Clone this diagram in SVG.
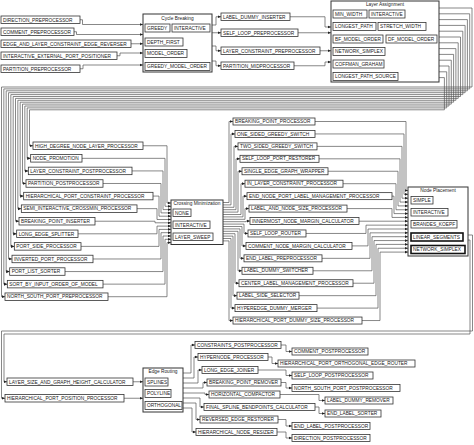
<svg xmlns="http://www.w3.org/2000/svg" width="474" height="445" viewBox="0 0 474 445">
<defs>
<marker id="a" markerUnits="userSpaceOnUse" markerWidth="4" markerHeight="4" refX="3.5" refY="2" orient="auto"><path d="M0,0.4 L3.5,2 L0,3.6z" fill="#222"/></marker>
</defs>
<style>
rect{fill:#fff;stroke:#333;stroke-width:0.8}
rect.p{stroke:#333;stroke-width:1}
rect.k{stroke:#111;stroke-width:1.6}
text{font-family:"Liberation Sans",Arial,sans-serif;font-size:4.8px;fill:#222}
text.t{text-anchor:middle}
#connectors path{fill:none;stroke:#555;stroke-width:0.7;marker-end:url(#a)}
</style>
<rect x="0" y="0" width="474" height="445" style="fill:#fff;stroke:none"/>
<g id="connectors">
<path d="M80,19.75 H82.5 V24.5 H143"/>
<path d="M74,31.75 H76.5 V34.5 H143"/>
<path d="M131,43.75 H143"/>
<path d="M117,55.75 H120 V53 H143"/>
<path d="M80,68.75 H83 V65 H143"/>
<path d="M212,25 H216 V16.75 H221"/>
<path d="M212,32.75 H221"/>
<path d="M212,46 H216 V50.75 H221"/>
<path d="M212,61 H216 V65.75 H221"/>
<path d="M290,16.75 H325 V27 H331"/>
<path d="M298,32.75 H331"/>
<path d="M320,50.75 H331"/>
<path d="M294,65.75 H325 V62 H331"/>
<path d="M439,8 H472 V87 H1.5 V296.71 H5"/>
<path d="M439,13.8 H469.7 V88.9 H3.83 V284.13 H7.33"/>
<path d="M439,19.6 H467.4 V90.8 H6.17 V271.55 H9.67"/>
<path d="M439,25.4 H465.1 V92.7 H8.5 V258.97 H12"/>
<path d="M439,31.2 H462.8 V94.6 H10.83 V246.39 H14.33"/>
<path d="M439,37 H460.5 V96.5 H13.17 V233.81 H16.67"/>
<path d="M439,42.8 H458.2 V98.4 H15.5 V221.23 H19"/>
<path d="M439,48.6 H455.9 V100.3 H17.83 V208.65 H21.33"/>
<path d="M439,54.4 H453.6 V102.2 H20.17 V196.07 H23.67"/>
<path d="M439,60.2 H451.3 V104.1 H22.5 V183.49 H26"/>
<path d="M439,66 H449 V106 H24.83 V170.91 H28.33"/>
<path d="M439,71.8 H446.7 V107.9 H27.17 V158.33 H30.67"/>
<path d="M439,77.6 H444.4 V109.8 H29.5 V145.75 H33"/>
<path d="M143,145.75 H167 V203 H171"/>
<path d="M82,158.33 H165 V206.3 H171"/>
<path d="M132,170.91 H163 V209.6 H171"/>
<path d="M103,183.49 H161 V212.9 H171"/>
<path d="M153,196.07 H159 V216.2 H171"/>
<path d="M137,208.65 H157 V219.5 H171"/>
<path d="M95,221.23 H155 V222.8 H171"/>
<path d="M78,233.81 H157 V226.1 H171"/>
<path d="M81,246.39 H159 V229.4 H171"/>
<path d="M93,258.97 H161 V232.7 H171"/>
<path d="M65,271.55 H163 V236 H171"/>
<path d="M103,284.13 H165 V239.3 H171"/>
<path d="M108,296.71 H167 V242.6 H171"/>
<path d="M223,202.5 H229 V121.5 H233"/>
<path d="M223,204.9 H231 V133.94 H235"/>
<path d="M223,207.3 H234 V146.38 H238"/>
<path d="M223,209.7 H236 V158.82 H240"/>
<path d="M223,212.1 H238 V171.26 H242"/>
<path d="M223,214.5 H241 V183.7 H245"/>
<path d="M223,216.9 H243 V196.14 H247"/>
<path d="M223,219.3 H245 V208.58 H249"/>
<path d="M223,221.7 H246 V221.02 H250"/>
<path d="M223,224.1 H244 V233.46 H248"/>
<path d="M223,226.5 H242 V245.9 H246"/>
<path d="M223,228.9 H240 V258.34 H244"/>
<path d="M223,231.3 H238 V270.78 H242"/>
<path d="M223,233.7 H235 V283.22 H239"/>
<path d="M223,236.1 H233 V295.66 H237"/>
<path d="M223,238.5 H231 V308.1 H235"/>
<path d="M223,240.9 H229 V320.54 H233"/>
<path d="M315,121.5 H406 V190.5 H408"/>
<path d="M315,133.94 H404 V194.35 H408"/>
<path d="M317,146.38 H402 V198.2 H408"/>
<path d="M319,158.82 H400 V202.05 H408"/>
<path d="M328,171.26 H398 V205.9 H408"/>
<path d="M343,183.7 H396 V209.75 H408"/>
<path d="M392,196.14 H394 V213.6 H408"/>
<path d="M347,208.58 H392 V217.45 H408"/>
<path d="M359,221.2 H408"/>
<path d="M306,233.46 H366 V225.15 H408"/>
<path d="M352,245.9 H368 V229 H408"/>
<path d="M322,258.34 H370 V232.85 H408"/>
<path d="M313,270.78 H372 V236.7 H408"/>
<path d="M353,283.22 H374 V240.55 H408"/>
<path d="M299,295.66 H376 V244.4 H408"/>
<path d="M317,308.1 H378 V248.25 H408"/>
<path d="M362,320.54 H380 V252.1 H408"/>
<path d="M468,235 H472.5 V331 H1.5 V398.25 H5"/>
<path d="M468,240 H470 V334 H4 V381.75 H7"/>
<path d="M133,381.75 H143"/>
<path d="M124,398.25 H143"/>
<path d="M183,373 H191 V345 H195"/>
<path d="M183,378 H194 V357 H198"/>
<path d="M183,383 H198 V370 H202"/>
<path d="M183,388 H203 V382.5 H207"/>
<path d="M183,393 H205 V394.5 H209"/>
<path d="M183,398 H200 V407 H204"/>
<path d="M183,403 H196 V419.5 H200"/>
<path d="M183,408 H192 V432 H196"/>
<path d="M281,345 H286 V351.5 H292"/>
<path d="M268,357 H272 V363.5 H278"/>
<path d="M258,370 H286 V375.5 H292"/>
<path d="M281,382.5 H286 V388 H292"/>
<path d="M280,394.5 H319 V400.5 H325"/>
<path d="M315,407 H319 V413.5 H325"/>
<path d="M278,419.5 H286 V426 H292"/>
<path d="M277,432 H286 V438 H292"/>
</g>
<g id="direction_preprocessor"><rect x="1" y="16" width="79" height="7.5"/><text x="3" y="21.5">DIRECTION_PREPROCESSOR</text></g>
<g id="comment_preprocessor"><rect x="1" y="28" width="73" height="7.5"/><text x="3" y="33.5">COMMENT_PREPROCESSOR</text></g>
<g id="edge_and_layer_constraint_edge_reverser"><rect x="1" y="40" width="130" height="7.5"/><text x="3" y="45.5">EDGE_AND_LAYER_CONSTRAINT_EDGE_REVERSER</text></g>
<g id="interactive_external_port_positioner"><rect x="1" y="52" width="116" height="7.5"/><text x="3" y="57.5">INTERACTIVE_EXTERNAL_PORT_POSITIONER</text></g>
<g id="partition_preprocessor"><rect x="1" y="65" width="79" height="7.5"/><text x="3" y="70.5">PARTITION_PREPROCESSOR</text></g>
<g id="cycle_breaking"><rect class="p" x="143" y="14" width="69" height="58"/><text class="t" x="177.5" y="19.8">Cycle Breaking</text>
<rect x="145" y="24" width="25" height="8"/><text x="147" y="29.7">GREEDY</text>
<rect x="172" y="24" width="38" height="8"/><text x="174" y="29.7">INTERACTIVE</text>
<rect x="145" y="38" width="38" height="8"/><text x="147" y="43.7">DEPTH_FIRST</text>
<rect x="145" y="49.5" width="42" height="8"/><text x="147" y="55.2">MODEL_ORDER</text>
<rect x="145" y="62.5" width="65" height="8"/><text x="147" y="68.2">GREEDY_MODEL_ORDER</text></g>
<g id="label_dummy_inserter"><rect x="221" y="13" width="69" height="7.5"/><text x="223" y="18.5">LABEL_DUMMY_INSERTER</text></g>
<g id="self_loop_preprocessor"><rect x="221" y="29" width="77" height="7.5"/><text x="223" y="34.5">SELF_LOOP_PREPROCESSOR</text></g>
<g id="layer_constraint_preprocessor"><rect x="221" y="47" width="99" height="7.5"/><text x="223" y="52.5">LAYER_CONSTRAINT_PREPROCESSOR</text></g>
<g id="partition_midprocessor"><rect x="221" y="62" width="73" height="7.5"/><text x="223" y="67.5">PARTITION_MIDPROCESSOR</text></g>
<g id="layer_assignment"><rect class="p" x="331" y="1" width="108" height="81"/><text class="t" x="385" y="6.3">Layer Assignment</text>
<rect x="333" y="10" width="34" height="8"/><text x="335" y="15.7">MIN_WIDTH</text>
<rect x="369" y="10" width="36" height="8"/><text x="371" y="15.7">INTERACTIVE</text>
<rect x="333" y="22.5" width="43" height="8"/><text x="335" y="28.2">LONGEST_PATH</text>
<rect x="378" y="22.5" width="48" height="8"/><text x="380" y="28.2">STRETCH_WIDTH</text>
<rect x="333" y="35" width="50" height="8"/><text x="335" y="40.7">BF_MODEL_ORDER</text>
<rect x="386" y="35" width="51" height="8"/><text x="388" y="40.7">DF_MODEL_ORDER</text>
<rect x="333" y="47.5" width="52" height="8"/><text x="335" y="53.2">NETWORK_SIMPLEX</text>
<rect x="333" y="60" width="51" height="8"/><text x="335" y="65.7">COFFMAN_GRAHAM</text>
<rect x="333" y="72.5" width="65" height="8"/><text x="335" y="78.2">LONGEST_PATH_SOURCE</text></g>
<g id="high_degree_node_layer_processor"><rect x="33" y="142" width="110" height="7.5"/><text x="35" y="147.5">HIGH_DEGREE_NODE_LAYER_PROCESSOR</text></g>
<g id="node_promotion"><rect x="30.67" y="154.58" width="51.33" height="7.5"/><text x="32.67" y="160.08">NODE_PROMOTION</text></g>
<g id="layer_constraint_postprocessor"><rect x="28.33" y="167.16" width="103.67" height="7.5"/><text x="30.33" y="172.66">LAYER_CONSTRAINT_POSTPROCESSOR</text></g>
<g id="partition_postprocessor"><rect x="26" y="179.74" width="77" height="7.5"/><text x="28" y="185.24">PARTITION_POSTPROCESSOR</text></g>
<g id="hierarchical_port_constraint_processor"><rect x="23.67" y="192.32" width="129.33" height="7.5"/><text x="25.67" y="197.82">HIERARCHICAL_PORT_CONSTRAINT_PROCESSOR</text></g>
<g id="semi_interactive_crossmin_processor"><rect x="21.33" y="204.9" width="115.67" height="7.5"/><text x="23.33" y="210.4">SEMI_INTERACTIVE_CROSSMIN_PROCESSOR</text></g>
<g id="breaking_point_inserter"><rect x="19" y="217.48" width="76" height="7.5"/><text x="21" y="222.98">BREAKING_POINT_INSERTER</text></g>
<g id="long_edge_splitter"><rect x="16.67" y="230.06" width="61.33" height="7.5"/><text x="18.67" y="235.56">LONG_EDGE_SPLITTER</text></g>
<g id="port_side_processor"><rect x="14.33" y="242.64" width="66.67" height="7.5"/><text x="16.33" y="248.14">PORT_SIDE_PROCESSOR</text></g>
<g id="inverted_port_processor"><rect x="12" y="255.22" width="81" height="7.5"/><text x="14" y="260.72">INVERTED_PORT_PROCESSOR</text></g>
<g id="port_list_sorter"><rect x="9.67" y="267.8" width="55.33" height="7.5"/><text x="11.67" y="273.3">PORT_LIST_SORTER</text></g>
<g id="sort_by_input_order_of_model"><rect x="7.33" y="280.38" width="95.67" height="7.5"/><text x="9.33" y="285.88">SORT_BY_INPUT_ORDER_OF_MODEL</text></g>
<g id="north_south_port_preprocessor"><rect x="5" y="292.96" width="103" height="7.5"/><text x="7" y="298.46">NORTH_SOUTH_PORT_PREPROCESSOR</text></g>
<g id="crossing_minimization"><rect class="p" x="171" y="200" width="52" height="44.5"/><text class="t" x="197" y="205.3">Crossing Minimization</text>
<rect x="173" y="209" width="18" height="7.5"/><text x="175" y="214.5">NONE</text>
<rect x="173" y="221" width="37" height="7.5"/><text x="175" y="226.5">INTERACTIVE</text>
<rect x="173" y="233" width="40" height="7.5"/><text x="175" y="238.5">LAYER_SWEEP</text></g>
<g id="breaking_point_processor"><rect x="233" y="118" width="82" height="7"/><text x="235" y="123.1">BREAKING_POINT_PROCESSOR</text></g>
<g id="one_sided_greedy_switch"><rect x="235" y="130.44" width="80" height="7"/><text x="237" y="135.54">ONE_SIDED_GREEDY_SWITCH</text></g>
<g id="two_sided_greedy_switch"><rect x="238" y="142.88" width="79" height="7"/><text x="240" y="147.98">TWO_SIDED_GREEDY_SWITCH</text></g>
<g id="self_loop_port_restorer"><rect x="240" y="155.32" width="79" height="7"/><text x="242" y="160.42">SELF_LOOP_PORT_RESTORER</text></g>
<g id="single_edge_graph_wrapper"><rect x="242" y="167.76" width="86" height="7"/><text x="244" y="172.86">SINGLE_EDGE_GRAPH_WRAPPER</text></g>
<g id="in_layer_constraint_processor"><rect x="245" y="180.2" width="98" height="7"/><text x="247" y="185.3">IN_LAYER_CONSTRAINT_PROCESSOR</text></g>
<g id="end_node_port_label_management_processor"><rect x="247" y="192.64" width="145" height="7"/><text x="249" y="197.74">END_NODE_PORT_LABEL_MANAGEMENT_PROCESSOR</text></g>
<g id="label_and_node_size_processor"><rect x="249" y="205.08" width="98" height="7"/><text x="251" y="210.18">LABEL_AND_NODE_SIZE_PROCESSOR</text></g>
<g id="innermost_node_margin_calculator"><rect x="250" y="217.52" width="109" height="7"/><text x="252" y="222.62">INNERMOST_NODE_MARGIN_CALCULATOR</text></g>
<g id="self_loop_router"><rect x="248" y="229.96" width="58" height="7"/><text x="250" y="235.06">SELF_LOOP_ROUTER</text></g>
<g id="comment_node_margin_calculator"><rect x="246" y="242.4" width="106" height="7"/><text x="248" y="247.5">COMMENT_NODE_MARGIN_CALCULATOR</text></g>
<g id="end_label_preprocessor"><rect x="244" y="254.84" width="78" height="7"/><text x="246" y="259.94">END_LABEL_PREPROCESSOR</text></g>
<g id="label_dummy_switcher"><rect x="242" y="267.28" width="71" height="7"/><text x="244" y="272.38">LABEL_DUMMY_SWITCHER</text></g>
<g id="center_label_management_processor"><rect x="239" y="279.72" width="114" height="7"/><text x="241" y="284.82">CENTER_LABEL_MANAGEMENT_PROCESSOR</text></g>
<g id="label_side_selector"><rect x="237" y="292.16" width="62" height="7"/><text x="239" y="297.26">LABEL_SIDE_SELECTOR</text></g>
<g id="hyperedge_dummy_merger"><rect x="235" y="304.6" width="82" height="7"/><text x="237" y="309.7">HYPEREDGE_DUMMY_MERGER</text></g>
<g id="hierarchical_port_dummy_size_processor"><rect x="233" y="317.04" width="129" height="7"/><text x="235" y="322.14">HIERARCHICAL_PORT_DUMMY_SIZE_PROCESSOR</text></g>
<g id="node_placement"><rect class="p" x="408" y="187" width="60" height="69"/><text class="t" x="438" y="192.3">Node Placement</text>
<rect x="411" y="196.5" width="22" height="7.5"/><text x="413" y="202">SIMPLE</text>
<rect x="411" y="208.5" width="37" height="7.5"/><text x="413" y="214">INTERACTIVE</text>
<rect x="411" y="220.5" width="46" height="7.5"/><text x="413" y="226">BRANDES_KOEPF</text>
<rect class="k" x="411" y="233" width="52" height="8"/><text x="413" y="238.7">LINEAR_SEGMENTS</text>
<rect class="k" x="411" y="245.5" width="54" height="8"/><text x="413" y="251.2">NETWORK_SIMPLEX</text></g>
<g id="layer_size_and_graph_height_calculator"><rect x="7" y="378" width="126" height="7.5"/><text x="9" y="383.5">LAYER_SIZE_AND_GRAPH_HEIGHT_CALCULATOR</text></g>
<g id="hierarchical_port_position_processor"><rect x="5" y="394.5" width="119" height="7.5"/><text x="7" y="400">HIERARCHICAL_PORT_POSITION_PROCESSOR</text></g>
<g id="edge_routing"><rect class="p" x="143" y="368" width="40" height="44"/><text class="t" x="163" y="373.3">Edge Routing</text>
<rect x="145" y="378" width="23" height="8"/><text x="147" y="383.7">SPLINES</text>
<rect x="145" y="389.5" width="26" height="8"/><text x="147" y="395.2">POLYLINE</text>
<rect x="145" y="401.5" width="37" height="8"/><text x="147" y="407.2">ORTHOGONAL</text></g>
<g id="constraints_postprocessor"><rect x="195" y="341.5" width="86" height="7"/><text x="197" y="346.6">CONSTRAINTS_POSTPROCESSOR</text></g>
<g id="hypernode_processor"><rect x="198" y="353.5" width="70" height="7"/><text x="200" y="358.6">HYPERNODE_PROCESSOR</text></g>
<g id="long_edge_joiner"><rect x="202" y="366.5" width="56" height="7"/><text x="204" y="371.6">LONG_EDGE_JOINER</text></g>
<g id="breaking_point_remover"><rect x="207" y="379" width="74" height="7"/><text x="209" y="384.1">BREAKING_POINT_REMOVER</text></g>
<g id="horizontal_compactor"><rect x="209" y="391" width="71" height="7"/><text x="211" y="396.1">HORIZONTAL_COMPACTOR</text></g>
<g id="final_spline_bendpoints_calculator"><rect x="204" y="403.5" width="111" height="7"/><text x="206" y="408.6">FINAL_SPLINE_BENDPOINTS_CALCULATOR</text></g>
<g id="reversed_edge_restorer"><rect x="200" y="416" width="78" height="7"/><text x="202" y="421.1">REVERSED_EDGE_RESTORER</text></g>
<g id="hierarchical_node_resizer"><rect x="196" y="428.5" width="81" height="7"/><text x="198" y="433.6">HIERARCHICAL_NODE_RESIZER</text></g>
<g id="comment_postprocessor"><rect x="292" y="348" width="76" height="7"/><text x="294" y="353.1">COMMENT_POSTPROCESSOR</text></g>
<g id="hierarchical_port_orthogonal_edge_router"><rect x="278" y="360" width="137" height="7"/><text x="280" y="365.1">HIERARCHICAL_PORT_ORTHOGONAL_EDGE_ROUTER</text></g>
<g id="self_loop_postprocessor"><rect x="292" y="372" width="81" height="7"/><text x="294" y="377.1">SELF_LOOP_POSTPROCESSOR</text></g>
<g id="north_south_port_postprocessor"><rect x="292" y="384.5" width="108" height="7"/><text x="294" y="389.6">NORTH_SOUTH_PORT_POSTPROCESSOR</text></g>
<g id="label_dummy_remover"><rect x="325" y="397" width="68" height="7"/><text x="327" y="402.1">LABEL_DUMMY_REMOVER</text></g>
<g id="end_label_sorter"><rect x="325" y="410" width="56" height="7"/><text x="327" y="415.1">END_LABEL_SORTER</text></g>
<g id="end_label_postprocessor"><rect x="292" y="422.5" width="78" height="7"/><text x="294" y="427.6">END_LABEL_POSTPROCESSOR</text></g>
<g id="direction_postprocessor"><rect x="292" y="434.5" width="78" height="7"/><text x="294" y="439.6">DIRECTION_POSTPROCESSOR</text></g>
</svg>
